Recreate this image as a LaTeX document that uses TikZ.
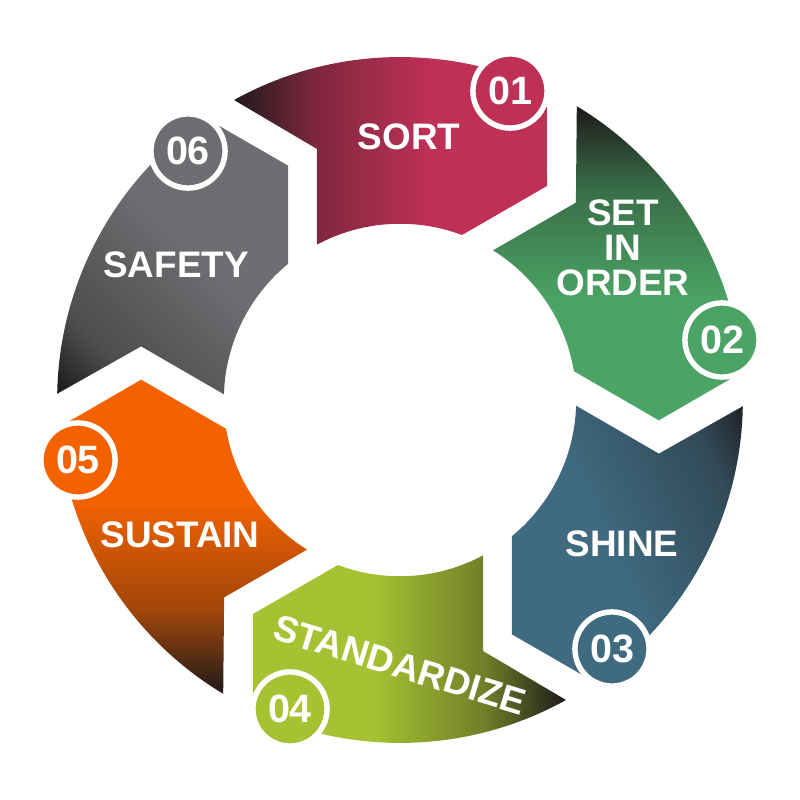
\documentclass[tikz,border=0pt]{standalone}
\usepackage{fontspec}
\setmainfont{Liberation Sans}
\usepackage{tikz}
\usepackage{xcolor}
\usetikzlibrary{calc,positioning}

\definecolor{segdark}{HTML}{1E1A1B}
\definecolor{sortcol}{HTML}{BE3056}
\definecolor{ordercol}{HTML}{4BA465}
\definecolor{shinecol}{HTML}{3F6A80}
\definecolor{stdcol}{HTML}{A6C232}
\definecolor{sustaincol}{HTML}{F46200}
\definecolor{safetycol}{HTML}{6D6E71}

\pgfdeclarehorizontalshading[segcol,segmid]{segshade}{100bp}{color(0bp)=(segdark);color(25bp)=(segdark);color(38bp)=(segmid);color(56bp)=(segcol);color(100bp)=(segcol)}
\pgfdeclarehorizontalshading[segcol,segmid]{segdiag}{100bp}{color(0bp)=(segdark);color(15bp)=(segdark);color(27bp)=(segmid);color(54bp)=(segcol);color(100bp)=(segcol)}

\tikzset{
  seglabel/.style = {text=white, font=\fontsize{21}{20}\selectfont\bfseries, align=center, inner sep=0pt},
  badge/.style = {circle, draw=white, line width=3.1pt, minimum size=42.2pt, inner sep=0pt, text=white, font=\fontsize{22.5}{24}\selectfont\bfseries},
}

\begin{document}
\begin{tikzpicture}[x=0.02cm, y=0.02cm]
\useasboundingbox (-400,-400) rectangle (400,400);

% the six arrows, one turned copy each, \a is the way its shade runs
\foreach \i/\c/\a/\s in {0/sortcol/0/segshade,1/ordercol/-90/segshade,2/shinecol/-155/segdiag,3/stdcol/180/segshade,4/sustaincol/90/segshade,5/safetycol/45/segdiag}{
  \colorlet{segcol}{\c}
  \colorlet{segmid}{\c!60!segdark}
  \shade[shading=\s, shading angle=\a, rotate=-60*\i]
    (-166,300) arc[start angle=119, end angle=64.6, radius=342.5]
    -- (147,214) -- (62,165)
    arc[start angle=69.4, end angle=118.2, radius=176]
    -- (-83,251) -- cycle;
}

\node[seglabel] (sort) at (9,263) {SORT};
\node[seglabel] (order) at (223,152) {SET\\IN\\ORDER};
\node[seglabel] (shine) at (222,-144) {SHINE};
\node[seglabel, rotate=-17] (standardize) at (0,-265) {STANDARDIZE};
\node[seglabel] (sustain) at (-220,-135) {SUSTAIN};
\node[seglabel] (safety) at (-224,135) {SAFETY};

\node[badge, fill=sortcol] (badge1) at (110,309) {01};
\node[badge, fill=ordercol] (badge2) at (322,60) {02};
\node[badge, fill=shinecol] (badge3) at (212,-249) {03};
\node[badge, fill=stdcol] (badge4) at (-110,-309) {04};
\node[badge, fill=sustaincol] (badge5) at (-322,-60) {05};
\node[badge, fill=safetycol] (badge6) at (-212,249) {06};
\end{tikzpicture}
\end{document}
